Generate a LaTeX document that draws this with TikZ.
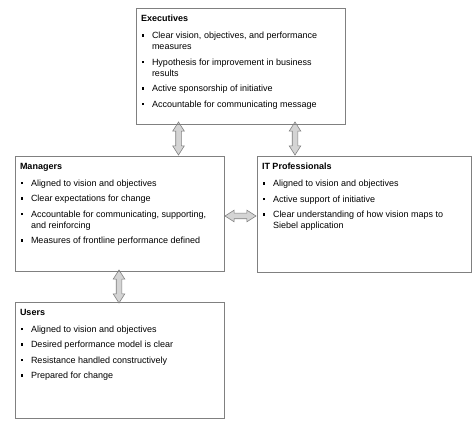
\documentclass[tikz,border=0pt]{standalone}
\usepackage{fontspec}
\setmainfont{Liberation Sans}
\usetikzlibrary{shapes.arrows}
\definecolor{boxgray}{HTML}{808080}
\definecolor{arrowfill}{HTML}{D4D4D4}

% one bullet point with hanging indent
\newcommand{\bpt}[1]{\par\noindent\hangindent=11pt\hangafter=1\makebox[11pt][l]{\hspace{1pt}\rule[2pt]{2.2pt}{2.2pt}}#1}
% box contents: height, width, title, points
\newcommand{\grouptext}[4]{\parbox[c][#1][t]{#2}{\raggedright\hyphenpenalty=10000
  \parskip=4.5pt\textbf{#3}\par\vspace{1.5pt}#4}}

\tikzset{
  group/.style={draw=boxgray, line width=1pt, inner xsep=4.5pt, inner ysep=6.5pt,
    anchor=north west, font=\fontsize{9}{11}\selectfont},
  link/.style={double arrow, draw=boxgray, fill=arrowfill, line width=0.6pt,
    inner sep=2.5pt, double arrow head extend=3pt, double arrow tip angle=65,
    minimum height=33pt},
}

\begin{document}
\begin{tikzpicture}[x=1pt, y=1pt]
  \useasboundingbox (0,0) rectangle (474,428);

  % connectors between the groups
  \node[link, rotate=90] (exmg) at (178.5,289.5) {};
  \node[link, rotate=90] (exit) at (295,289.5) {};
  \node[link, minimum height=31pt] (mgit) at (240.5,212) {};
  \node[link, rotate=90] (mgus) at (119,141.5) {};

  % groups
  \node[group] (exec) at (136,420) {\grouptext{103pt}{200pt}{Executives}{%
    \bpt{Clear vision, objectives, and performance\newline measures}
    \bpt{Hypothesis for improvement in business\newline results}
    \bpt{Active sponsorship of initiative}
    \bpt{Accountable for communicating message}}};
  \node[group] (mgr) at (15,272) {\grouptext{102pt}{200pt}{Managers}{%
    \bpt{Aligned to vision and objectives}
    \bpt{Clear expectations for change}
    \bpt{Accountable for communicating, supporting,\newline and reinforcing}
    \bpt{Measures of frontline performance defined}}};
  \node[group] (itp) at (257,272) {\grouptext{103pt}{205pt}{IT Professionals}{%
    \bpt{Aligned to vision and objectives}
    \bpt{Active support of initiative}
    \bpt{Clear understanding of how vision maps to\newline Siebel application}}};
  \node[group] (usr) at (15,126) {\grouptext{103pt}{200pt}{Users}{%
    \bpt{Aligned to vision and objectives}
    \bpt{Desired performance model is clear}
    \bpt{Resistance handled constructively}
    \bpt{Prepared for change}}};
\end{tikzpicture}
\end{document}
